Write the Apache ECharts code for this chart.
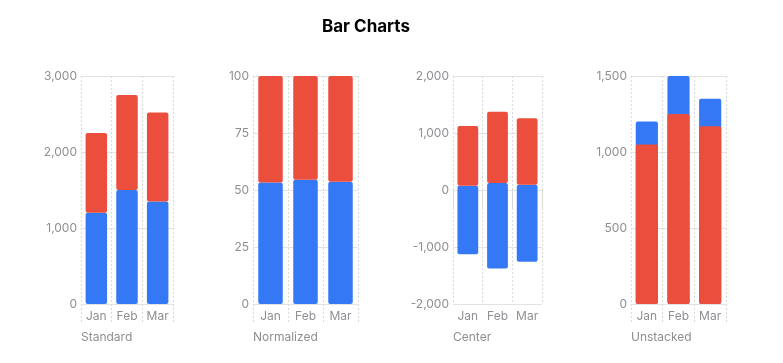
<!DOCTYPE html>
<html><head><meta charset="utf-8">
<script src="https://cdn.jsdelivr.net/npm/echarts@6/dist/echarts.min.js"></script>
<style>html,body{margin:0;padding:0;background:#fff}#c{width:783px;height:363px}</style>
</head><body><div id="c"></div>
<script>
const categories = ['Jan', 'Feb', 'Mar'];
const seriesA = [1200, 1500, 1350];   // blue
const seriesB = [1050, 1250, 1170];   // red
const panelNames = ['Standard', 'Normalized', 'Center', 'Unstacked'];
const yMins = [0, 0, -2000, 0];
const yMaxs = [3000, 100, 2000, 1500];
const yIntervals = [1000, 25, 1000, 500];

const BLUE = '#3478f6', RED = '#eb4e3d', GRAY = '#8e8e93';
const FONT = 'Inter, "Noto Sans", sans-serif';
const grids = [
  {left: 81, width: 92}, {left: 253, width: 105}, {left: 453, width: 89}, {left: 631, width: 95}
].map(g => ({left: g.left, width: g.width, top: 76, height: 228}));

const totals = seriesA.map((v, i) => v + seriesB[i]);
const normA = seriesA.map((v, i) => v / totals[i] * 100);
const normB = seriesB.map((v, i) => v / totals[i] * 100);
const centerBase = totals.map(t => -t / 2);

const fmt = v => v.toLocaleString('en-US');
const xAxes = grids.map((g, i) => ({
  type: 'category', gridIndex: i, data: categories,
  axisLine: {show: false},
  axisTick: {show: true, length: 18, lineStyle: {color: '#d9d9d9', type: [2, 2]}},
  splitLine: {show: true, lineStyle: {color: '#d9d9d9', type: [2, 2]}},
  axisLabel: {color: GRAY, fontSize: 12, fontFamily: FONT, margin: 6}
}));
const yAxes = grids.map((g, i) => ({
  type: 'value', gridIndex: i, min: yMins[i], max: yMaxs[i], interval: yIntervals[i],
  axisLine: {show: false}, axisTick: {show: false},
  splitLine: {lineStyle: {color: '#e3e3e3', width: 1}},
  axisLabel: {color: GRAY, fontSize: 12, fontFamily: FONT, margin: 4, formatter: fmt}
}));
const bar = (i, data, color, extra) => Object.assign({
  type: 'bar', xAxisIndex: i, yAxisIndex: i, data: data, barCategoryGap: '30%',
  itemStyle: {color: color, borderRadius: 2}, silent: true, animation: false
}, extra || {});

const series = [
  bar(0, seriesA, BLUE, {stack: 's0'}),
  bar(0, seriesB, RED, {stack: 's0'}),
  bar(1, normA, BLUE, {stack: 's1'}),
  bar(1, normB, RED, {stack: 's1'}),
  bar(2, centerBase, 'rgba(0,0,0,0)', {stack: 's2', stackStrategy: 'all'}),
  bar(2, seriesA, BLUE, {stack: 's2', stackStrategy: 'all'}),
  bar(2, seriesB, RED, {stack: 's2', stackStrategy: 'all'}),
  bar(3, seriesA, BLUE, {barGap: '-100%'}),
  bar(3, seriesB, RED, {barGap: '-100%'})
];

const titles = [{text: 'Bar Charts', left: 317, top: 13,
  textStyle: {fontSize: 17, fontWeight: 'bold', color: '#000', fontFamily: FONT}}];
panelNames.forEach((n, i) => titles.push({text: n, left: grids[i].left - 5, top: 326,
  textStyle: {fontSize: 12, fontWeight: 'normal', color: GRAY, fontFamily: FONT}}));

const chart = echarts.init(document.getElementById('c'));
chart.setOption({
  animation: false, title: titles, grid: grids, xAxis: xAxes, yAxis: yAxes, series: series
});
</script></body></html>
